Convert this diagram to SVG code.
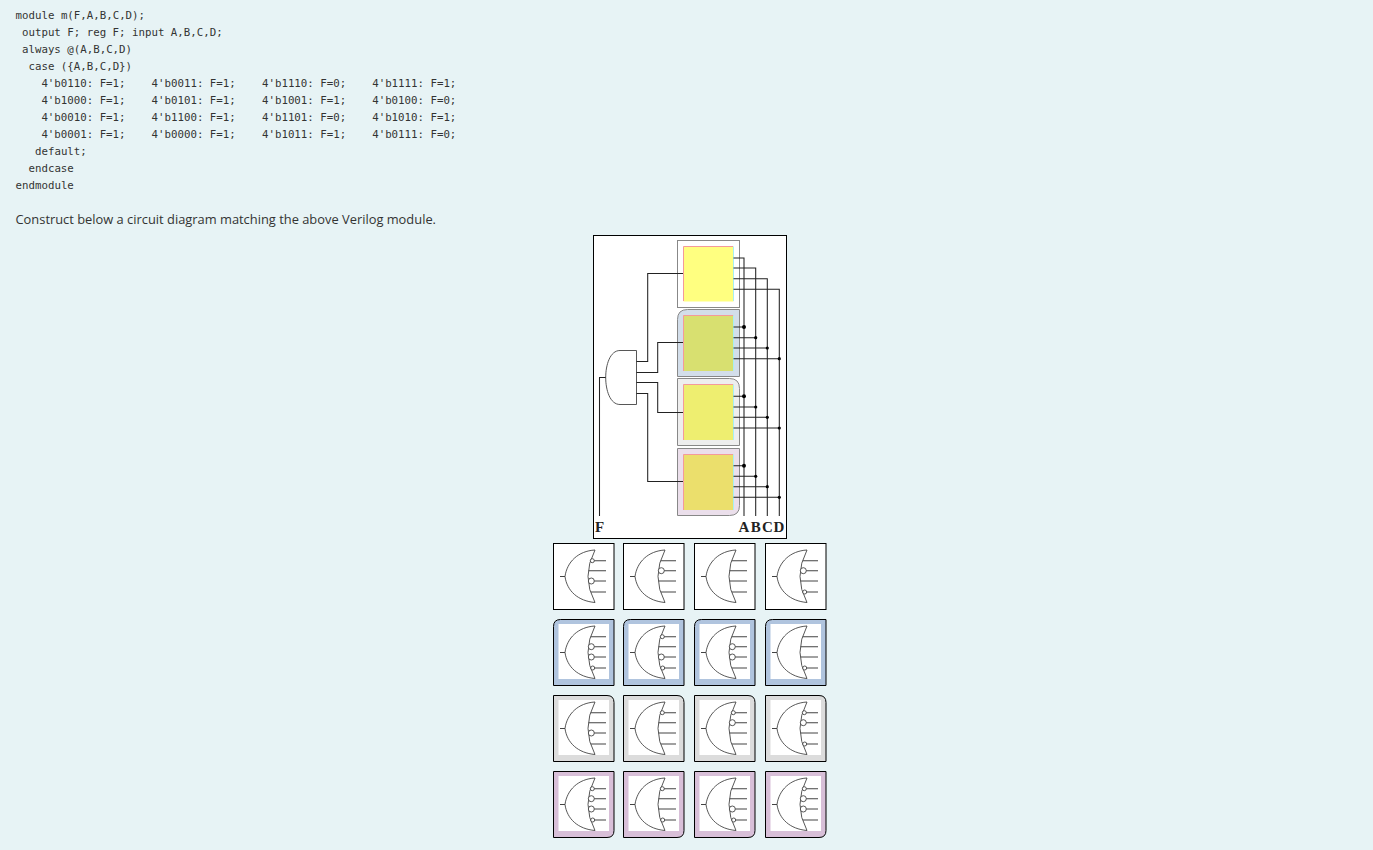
<svg xmlns="http://www.w3.org/2000/svg" width="1373" height="850" viewBox="0 0 1373 850">
<style>
.code{font-family:"DejaVu Sans Mono","Liberation Mono",monospace;font-size:10.75px;fill:#333;white-space:pre}
.prose{font-family:"Open Sans","Noto Sans",sans-serif;font-size:13.3px;fill:#333}
.pin{font-family:"Liberation Serif",serif;font-size:15px;font-weight:700;fill:#222;text-anchor:middle}
.wire{fill:none;stroke:#222;stroke-width:1.05}
.slot{stroke:#888;stroke-width:1}
.core{stroke:none}
.pinkedge{fill:none;stroke:#f49a9a;stroke-width:1}
.cyanedge{fill:none;stroke:#a8f0f0;stroke-width:1}
.frame{stroke:#000;stroke-width:1}
.tin{fill:none;stroke:#444;stroke-width:1.1}
.gate{fill:#fff;stroke:#444;stroke-width:.9}
.bub{fill:#fff;stroke:#444;stroke-width:.9}
</style>
<defs>
<g id="gate">
<path class="tin" d="M560 576.5H565M590.3 560.7H606M588.3 570.7H606M588.3 581H606M590.7 592H606"/>
<path class="gate" d="M595 550C578 551 567 562 565 576.5C567 591 578 601 595 602.5Q581 576.5 595 550Z"/>
</g>
<circle id="b1" class="bub" cx="592.3" cy="560.7" r="2"/>
<circle id="b2" class="bub" cx="591.3" cy="570.7" r="3"/>
<circle id="b3" class="bub" cx="591.3" cy="581" r="3"/>
<circle id="b4" class="bub" cx="592.7" cy="592" r="2"/>
<g id="tileA"><rect class="frame" x="553.5" y="543.5" width="60.5" height="66" fill="#fff"/><use href="#gate"/></g>
<g id="tileB"><path class="frame" fill="#b0c4de" d="M560.5 543.5H614V609.5H553.5V550.5Q553.5 543.5 560.5 543.5Z"/><rect x="558.5" y="548" width="50.5" height="55" fill="#fff"/><use href="#gate"/></g>
<g id="tileC"><path class="frame" fill="#dcdcdc" d="M553.5 543.5H607Q614 543.5 614 550.5V609.5H553.5Z"/><rect x="558.5" y="548" width="50.5" height="55" fill="#fff"/><use href="#gate"/></g>
<g id="tileD"><path class="frame" fill="#d8bfd8" d="M553.5 543.5H614V602.5Q614 609.5 607 609.5H553.5Z"/><rect x="558.5" y="548" width="50.5" height="55" fill="#fff"/><use href="#gate"/></g>
</defs>
<rect width="1373" height="850" fill="#e7f3f5"/>
<g id="source-text">
<text class="code" x="15.6" y="19">module m(F,A,B,C,D);</text>
<text class="code" x="22" y="36">output F; reg F; input A,B,C,D;</text>
<text class="code" x="22" y="53">always @(A,B,C,D)</text>
<text class="code" x="28.5" y="70">case ({A,B,C,D})</text>
<text class="code" x="41.4" y="87">4'b0110: F=1;</text><text class="code" x="151.6" y="87">4'b0011: F=1;</text><text class="code" x="262" y="87">4'b1110: F=0;</text><text class="code" x="372.2" y="87">4'b1111: F=1;</text>
<text class="code" x="41.4" y="104">4'b1000: F=1;</text><text class="code" x="151.6" y="104">4'b0101: F=1;</text><text class="code" x="262" y="104">4'b1001: F=1;</text><text class="code" x="372.2" y="104">4'b0100: F=0;</text>
<text class="code" x="41.4" y="121">4'b0010: F=1;</text><text class="code" x="151.6" y="121">4'b1100: F=1;</text><text class="code" x="262" y="121">4'b1101: F=0;</text><text class="code" x="372.2" y="121">4'b1010: F=1;</text>
<text class="code" x="41.4" y="138">4'b0001: F=1;</text><text class="code" x="151.6" y="138">4'b0000: F=1;</text><text class="code" x="262" y="138">4'b1011: F=1;</text><text class="code" x="372.2" y="138">4'b0111: F=0;</text>
<text class="code" x="35" y="155">default;</text>
<text class="code" x="28.5" y="172">endcase</text>
<text class="code" x="15.6" y="189">endmodule</text>
<text class="prose" x="15.5" y="224" textLength="420.5" lengthAdjust="spacingAndGlyphs">Construct below a circuit diagram matching the above Verilog module.</text>
</g>
<rect id="board" x="593.5" y="235.5" width="193" height="303" fill="#fff" stroke="#000"/>
<g id="slot1">
<rect class="slot" x="677.5" y="240.5" width="62" height="67" fill="#fff"/>
<rect class="core" x="683.5" y="246.5" width="50" height="55" fill="#ffff80"/>
<path class="pinkedge" d="M683.5 301V246.5H733"/><path class="cyanedge" d="M733.5 246.5V301"/>
</g>
<g id="slot2">
<path class="slot" fill="#d3deea" d="M687.5 309.5H739.5V376.5H677.5V319.5Q677.5 309.5 687.5 309.5Z"/>
<rect class="core" x="683.5" y="315.5" width="50" height="55.5" fill="#d8e070"/>
<path class="pinkedge" d="M683.5 371V315.5H733"/><path class="cyanedge" d="M733.5 315.5V371"/>
</g>
<g id="slot3">
<path class="slot" fill="#eeeeee" d="M677.5 378.5H729.5Q739.5 378.5 739.5 388.5V445.5H677.5Z"/>
<rect class="core" x="683.5" y="384.5" width="50" height="55.5" fill="#eeee70"/>
<path class="pinkedge" d="M683.5 440V384.5H733"/><path class="cyanedge" d="M733.5 384.5V440"/>
</g>
<g id="slot4">
<path class="slot" fill="#ebdfeb" d="M677.5 448.5H739.5V505.5Q739.5 515.5 729.5 515.5H677.5Z"/>
<rect class="core" x="683.5" y="454.5" width="50" height="55.5" fill="#ebdf6c"/>
<path class="pinkedge" d="M683.5 510V454.5H733"/><path class="cyanedge" d="M733.5 454.5V510"/>
</g>
<g id="and-gate">
<path d="M636.5 350.5H620C610 350.5 605.7 365 605.7 377.5C605.7 390 610 404.5 620 404.5H636.5Z" fill="#fff" stroke="#444" stroke-width=".9"/>
</g>
<g id="connectors">
<path class="wire" d="M733.5 258H744V516M733.5 268H755.7V516M733.5 278.7H767.3V516M733.5 289.3H779.3V516"/>
<path class="wire" d="M733.5 327H744M733.5 337.7H755.7M733.5 348H767.3M733.5 358.7H779.3"/>
<path class="wire" d="M733.5 396.3H744M733.5 407H755.7M733.5 417.3H767.3M733.5 428H779.3"/>
<path class="wire" d="M733.5 465.7H744M733.5 476.3H755.7M733.5 486.7H767.3M733.5 497.3H779.3"/>
<path class="wire" d="M683 273.5H647.7V361.5H636.5M683 342.5H657.7V372.5H636.5M683 412.5H657.7V382.5H636.5M683 481.5H647.7V393.5H636.5"/>
<path class="wire" d="M605.7 377.5H599.5V516"/>
<g fill="#000">
<circle cx="744" cy="327" r="2"/><circle cx="755.7" cy="337.7" r="1.6"/><circle cx="767.3" cy="348" r="1.6"/><circle cx="779.3" cy="358.7" r="1.6"/>
<circle cx="744" cy="396.3" r="2"/><circle cx="755.7" cy="407" r="1.6"/><circle cx="767.3" cy="417.3" r="1.6"/><circle cx="779.3" cy="428" r="1.6"/>
<circle cx="744" cy="465.7" r="2"/><circle cx="755.7" cy="476.3" r="1.6"/><circle cx="767.3" cy="486.7" r="1.6"/><circle cx="779.3" cy="497.3" r="1.6"/>
</g>
</g>
<g id="pin-labels">
<text class="pin" x="599.5" y="532">F</text><text class="pin" x="744" y="532">A</text><text class="pin" x="755.7" y="532">B</text><text class="pin" x="767.3" y="532">C</text><text class="pin" x="778.8" y="532">D</text>
</g>
<g id="tile-1-1"><use href="#tileA"/><use href="#b1"/><use href="#b3"/></g>
<g id="tile-1-2" transform="translate(70,0)"><use href="#tileA"/><use href="#b2"/></g>
<g id="tile-1-3" transform="translate(141,0)"><use href="#tileA"/></g>
<g id="tile-1-4" transform="translate(212,0)"><use href="#tileA"/><use href="#b2"/><use href="#b4"/></g>
<g id="tile-2-1" transform="translate(0,76)"><use href="#tileB"/><use href="#b2"/><use href="#b3"/><use href="#b4"/></g>
<g id="tile-2-2" transform="translate(70,76)"><use href="#tileB"/><use href="#b1"/><use href="#b3"/><use href="#b4"/></g>
<g id="tile-2-3" transform="translate(141,76)"><use href="#tileB"/><use href="#b2"/><use href="#b3"/></g>
<g id="tile-2-4" transform="translate(212,76)"><use href="#tileB"/><use href="#b4"/></g>
<g id="tile-3-1" transform="translate(0,152)"><use href="#tileC"/><use href="#b3"/></g>
<g id="tile-3-2" transform="translate(70,152)"><use href="#tileC"/><use href="#b1"/></g>
<g id="tile-3-3" transform="translate(141,152)"><use href="#tileC"/><use href="#b1"/><use href="#b2"/></g>
<g id="tile-3-4" transform="translate(212,152)"><use href="#tileC"/><use href="#b1"/><use href="#b2"/><use href="#b4"/></g>
<g id="tile-4-1" transform="translate(0,228)"><use href="#tileD"/><use href="#b1"/><use href="#b2"/><use href="#b3"/><use href="#b4"/></g>
<g id="tile-4-2" transform="translate(70,228)"><use href="#tileD"/><use href="#b1"/><use href="#b4"/></g>
<g id="tile-4-3" transform="translate(141,228)"><use href="#tileD"/><use href="#b3"/><use href="#b4"/></g>
<g id="tile-4-4" transform="translate(212,228)"><use href="#tileD"/><use href="#b1"/><use href="#b2"/><use href="#b3"/></g>
</svg>
